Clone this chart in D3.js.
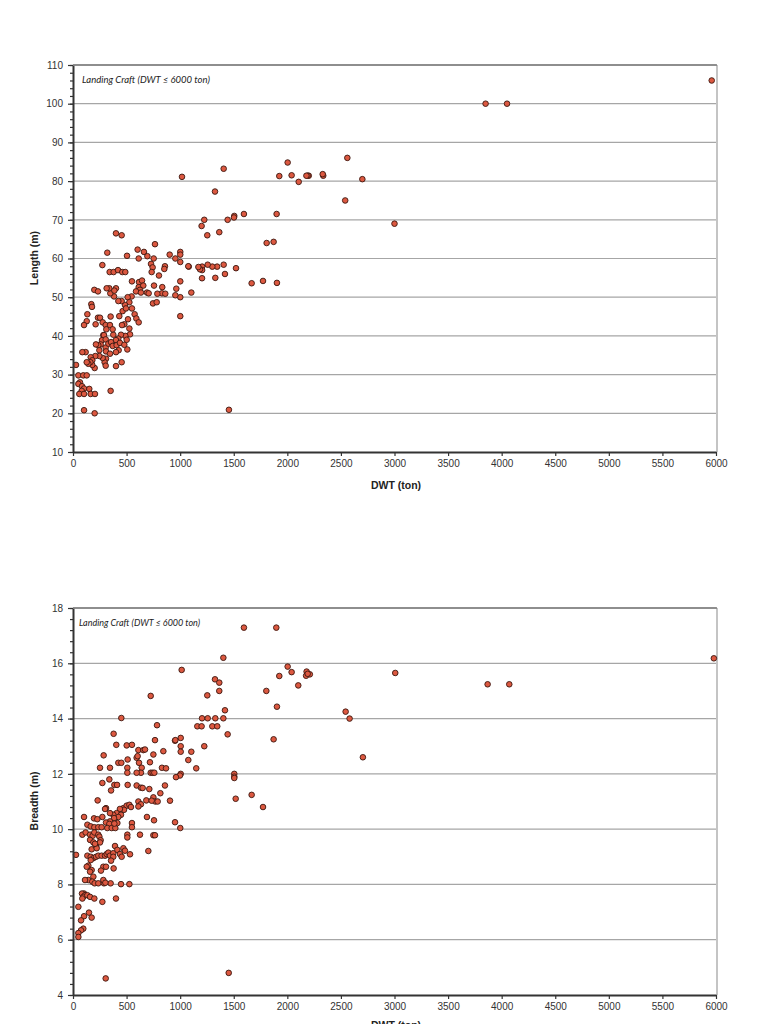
<!DOCTYPE html>
<html>
<head>
<meta charset="utf-8">
<script src="https://cdn.jsdelivr.net/npm/d3@7"></script>
<style>
body { margin: 0; background: #fff; }
text { font-family: "Liberation Sans", Arial, sans-serif; }
</style>
</head>
<body>
<svg width="768" height="1024"></svg>
<script>
var xTicks = [0,500,1000,1500,2000,2500,3000,3500,4000,4500,5000,5500,6000];
var lengthTicks = [10,20,30,40,50,60,70,80,90,100,110];
var breadthTicks = [4,6,8,10,12,14,16,18];
var note = "Landing Craft (DWT \u2264 6000 ton)";

// length chart: DWT and length (m)
var lengthDwt = [5960,3850,4050,3000,2700,2560,2540,2335,2330,2200,2190,2178,2106,2040,2003,1925,1900,1903,1872,1807,
  1773,1667,1595,1521,1505,1502,1455,1443,1418,1406,1406,1365,1345,1328,1325,1300,1257,1253,1225,1205,
  1205,1204,1200,1185,1170,1104,1080,1076,1017,1001,1001,1001,1001,1001,1001,964,955,955,902,
  401,454,320,274,603,662,694,765,504,613,753,728,743,734,802,858,852,342,379,420,
  460,488,550,616,644,613,656,625,588,634,690,706,756,833,830,787,861,746,781,547,
  510,526,485,454,423,383,348,339,314,401,386,199,233,171,177,134,128,103,211,233,
  252,277,305,345,351,432,463,494,550,575,591,613,513,479,457,526,532,488,448,423,
  401,376,370,311,283,271,289,305,258,236,214,246,305,308,330,355,370,407,426,438,
  479,501,507,401,308,295,277,246,208,165,180,202,180,162,143,128,118,87,28,50,
  96,128,65,50,84,103,81,152,59,103,165,205,351,401,454,305,345,103,202];
var lengthM = [106,100,100,69,80.5,86,75,81.4,81.8,81.4,81.4,81.4,79.8,81.5,84.8,81.3,71.5,53.7,64.3,64,
  54.2,53.6,71.5,57.5,71,70.6,20.9,70,56,83.2,58.4,66.8,57.9,55,77.3,57.9,58.4,66,70,57.9,
  57,54.9,68.4,57.2,57.8,51.2,57.9,58,81.1,61.7,61,59.1,54.1,50,45.1,52.2,60,50.5,61,
  66.5,66,61.5,58.3,62.3,61.7,60.6,63.7,60.7,60,60,58.6,57.7,56.5,55.6,58,57.3,56.5,56.5,57,
  56.5,56.5,54.1,53.9,54.3,52.6,53,51.9,51.5,51.2,51.2,51,53,52.6,51,50.9,50.9,48.4,48.7,50.2,
  50,48.7,48,49,49,50.2,51,52.3,52.3,52.3,51.7,51.9,51.5,48.2,47.5,45.6,43.8,42.8,43,44.7,
  44.7,43.5,42.8,42.8,45,45.1,46.4,47.1,47.1,45.6,44.5,43.5,44.3,43,42.8,41.9,40.4,40,40.3,39.3,
  38.9,40.3,41.7,41.7,40.2,38.9,40.2,39.1,37.8,37.6,37.8,36.3,37,36,38,38.4,37.4,37.6,36.3,38.2,
  37.7,39,36.5,35.8,34.1,33.2,34.3,34.8,34.8,34.5,33.7,31.7,32.5,33.2,32.8,33.2,35.8,35.8,32.5,29.8,
  29.8,29.8,28,27.6,27,26.4,25.8,26.3,25,25,25,25,25.8,32.2,33.2,32.3,35.4,20.8,20];

// breadth chart: DWT and breadth (m)
var breadthDwt = [5980,3007,3869,4071,2544,2581,2705,1595,1897,1403,1014,2003,2040,1925,2180,2175,2210,2190,2102,1325,
  1365,1365,1253,1804,1903,1418,1204,1257,1328,1403,1160,1200,1300,1346,1443,1872,952,1005,1005,1005,
  1225,1104,1076,1150,1005,998,1505,1505,1505,1667,1518,1773,952,305,1453,725,
  451,784,379,404,501,550,610,656,672,286,510,594,616,603,718,750,765,843,955,252,
  345,423,451,507,641,634,594,507,725,743,759,830,868,961,274,339,355,386,411,510,
  594,634,650,712,815,858,750,768,790,905,230,470,501,526,541,476,610,634,610,684,
  734,438,407,376,345,308,299,448,423,383,345,308,339,274,196,227,103,134,165,199,
  236,267,320,361,395,414,386,550,550,690,756,1001,87,118,159,183,199,236,246,258,
  252,507,507,625,750,765,703,159,190,215,174,221,205,28,134,165,190,215,236,267,
  299,314,330,345,376,392,414,438,454,470,485,376,532,355,165,143,128,283,308,261,
  379,174,159,143,112,190,180,202,236,289,351,448,526,283,302,103,84,112,96,87,
  134,159,199,274,401,50,149,103,75,174,96,75,50,50];
var breadthM = [16.18,15.65,15.24,15.24,14.25,14,12.6,17.29,17.29,16.2,15.76,15.88,15.68,15.54,15.7,15.55,15.6,15.62,15.2,15.42,
  15.3,15,14.84,15,14.43,14.3,14.01,14.01,14.01,14.01,13.72,13.72,13.72,13.72,13.43,13.25,13.2,13.3,13,12.8,
  13,12.8,12.5,12.2,12,11.94,12,11.9,11.85,11.24,11.1,10.8,10.25,4.6,4.8,14.82,
  14.02,13.76,13.45,13.05,13.03,13.05,12.86,12.86,12.88,12.67,12.52,12.58,12.4,12.64,12.42,12.7,13.22,12.82,13.22,12.22,
  12.22,12.4,12.4,12.22,12.22,12.04,12.04,12.04,12.04,12.04,12.04,12.22,12.2,11.88,11.67,11.8,11.4,11.6,11.6,11.6,
  11.58,11.5,11.49,11.45,11.3,11.58,11.15,11,11,11.03,11.04,10.76,10.85,10.88,10.8,10.7,11,10.9,10.82,11.04,
  11.03,10.73,10.58,10.52,10.58,10.76,10.73,10.52,10.44,10.4,10.28,10.24,10.19,10.44,10.39,10.36,10.44,10.16,10.1,10.07,
  10.07,10.07,10.04,10.04,10.04,10.22,10.2,10.22,10.07,10.44,10.32,10.04,9.8,9.88,9.8,9.76,9.88,9.8,9.73,9.6,
  9.52,9.8,9.7,9.8,9.78,9.78,9.21,9.61,9.52,9.37,9.27,9.31,9.47,9.07,9.04,9,8.95,9,9.04,9.04,
  9.04,9.1,9.15,9.04,9.13,9.39,9.25,9.1,9,9.31,9.22,9,9.09,8.86,8.88,8.68,8.64,8.64,8.64,8.5,
  8.58,8.52,8.46,8.16,8.16,8.28,8.1,8.04,8.04,8.04,8.04,8.01,8.01,8.16,8.06,7.67,7.67,7.61,7.55,7.49,
  7.61,7.55,7.49,7.37,7.49,7.19,6.98,6.85,6.7,6.8,6.4,6.34,6.24,6.1];

var svg = d3.select("svg");

function drawPanel(top, ticks, minorStep, yTitle, xs, ys, noteX, noteSize, titleY) {
  var x = d3.scaleLinear().domain([0,6000]).range([73,716]);
  var y = d3.scaleLinear().domain([ticks[0], ticks[ticks.length-1]]).range([top+387, top]);
  var g = svg.append("g");

  // grid lines
  g.selectAll(".grid")
    .data(ticks.slice(1))
    .enter()
    .append("line")
    .attr("x1", 73).attr("x2", 716)
    .attr("y1", d => y(d)).attr("y2", d => y(d))
    .attr("stroke", "#a6a6a6")
    .attr("stroke-width", 1.2);

  // right border
  g.append("line")
    .attr("x1", 717).attr("x2", 717)
    .attr("y1", top).attr("y2", top+387)
    .attr("stroke", "#c4c4c4").attr("stroke-width", 2);

  g.append("text")
    .attr("x", noteX).attr("y", top+18)
    .style("font-family", "Lato, 'Open Sans', sans-serif")
    .style("font-style", "italic")
    .style("font-size", noteSize+"px")
    .attr("fill", "#222")
    .text(note);

  g.selectAll("circle")
    .data(xs)
    .enter()
    .append("circle")
    .attr("cx", d => x(d))
    .attr("cy", (d,i) => y(ys[i]))
    .attr("r", 2.8)
    .attr("fill", "#dc5840")
    .attr("stroke", "#3b1710")
    .attr("stroke-width", 0.9);

  var minor = d3.range(ticks[0], ticks[ticks.length-1] + minorStep/2, minorStep);
  g.append("g")
    .attr("transform", "translate(73,0)")
    .call(d3.axisLeft(y).tickValues(minor).tickSize(3).tickSizeOuter(0).tickFormat(""))
    .call(a => a.select(".domain").remove())
    .selectAll("line").attr("stroke", "#333").attr("stroke-width", 1.2);

  var yAxis = g.append("g")
    .attr("transform", "translate(73,0)")
    .call(d3.axisLeft(y).tickValues(ticks).tickSize(5).tickSizeOuter(0).tickPadding(5).tickFormat(d3.format("d")));
  yAxis.select(".domain").attr("stroke", "#333").attr("stroke-width", 2);
  yAxis.selectAll("line").attr("stroke", "#333").attr("stroke-width", 1.2);
  yAxis.selectAll("text").style("font-size", "10px").attr("fill", "#333");

  var xAxis = g.append("g")
    .attr("transform", "translate(0," + (top+387) + ")")
    .call(d3.axisBottom(x).tickValues(xTicks).tickSize(4).tickSizeOuter(0).tickPadding(4).tickFormat(d3.format("d")));
  xAxis.select(".domain").attr("stroke", "#333").attr("stroke-width", 2);
  xAxis.selectAll("line").attr("stroke", "#333").attr("stroke-width", 1.2);
  xAxis.selectAll("text").style("font-size", "10px").attr("fill", "#333");

  // top border over the last grid line
  g.append("line")
    .attr("x1", 73).attr("x2", 717)
    .attr("y1", top).attr("y2", top)
    .attr("stroke", "#777").attr("stroke-width", 1.5);

  g.append("text")
    .attr("x", 396).attr("y", titleY)
    .attr("text-anchor", "middle")
    .style("font-size", "10.5px").style("font-weight", "bold")
    .attr("fill", "#222")
    .text("DWT (ton)");

  g.append("text")
    .attr("transform", "translate(38," + (top+193) + ") rotate(-90)")
    .attr("text-anchor", "middle")
    .style("font-size", "10.5px").style("font-weight", "bold")
    .attr("fill", "#222")
    .text(yTitle);
}

drawPanel(65, lengthTicks, 2, "Length (m)", lengthDwt, lengthM, 82, 9.5, 489);
drawPanel(608, breadthTicks, 0.4, "Breadth (m)", breadthDwt, breadthM, 79, 9, 1029);
</script>
</body>
</html>
